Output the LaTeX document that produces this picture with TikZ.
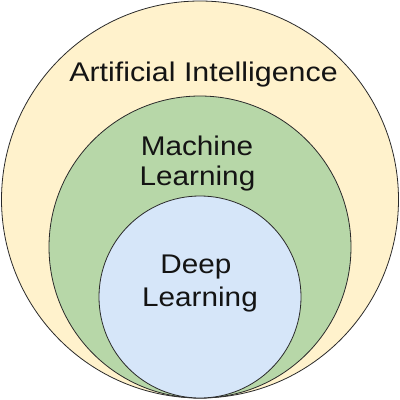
\documentclass[tikz,border=0pt]{standalone}
\usepackage{fontspec}
\usepackage{graphicx}
\setmainfont{Liberation Sans}
\definecolor{aiyellow}{HTML}{FFF2CC}
\definecolor{mlgreen}{HTML}{B7D7A8}
\definecolor{dlblue}{HTML}{D6E6F9}
\definecolor{rimgray}{HTML}{2A2A2A}
\definecolor{txt}{HTML}{141414}
\begin{document}
\begin{tikzpicture}[x=1pt,y=-1pt,
  ring/.style={draw=rimgray,line width=0.8pt},
  lbl/.style={anchor=base,inner sep=0pt,text=txt,font=\fontsize{27}{32}\selectfont}]
\useasboundingbox (0,0) rectangle (400,400);
\path[fill=white] (0,0) rectangle (400,400);
\node[ring,circle,fill=aiyellow,minimum size=397pt,inner sep=0pt] (ai) at (200,199.5) {};
\node[ring,circle,fill=mlgreen,minimum size=302pt,inner sep=0pt] (ml) at (200,247) {};
\node[ring,circle,fill=dlblue,minimum size=202pt,inner sep=0pt] (dl) at (200,297) {};
\node[lbl] (aitext) at (203.5,81) {\scalebox{1.125}[1]{Artificial Intelligence}};
\node[lbl] (mltext1) at (197,155) {\scalebox{1.1}[1]{Machine}};
\node[lbl] (mltext2) at (197.5,185) {\scalebox{1.1}[1]{Learning}};
\node[lbl] (dltext1) at (196,273) {\scalebox{1.1}[1]{Deep}};
\node[lbl] (dltext2) at (200,306) {\scalebox{1.1}[1]{Learning}};
\end{tikzpicture}
\end{document}
